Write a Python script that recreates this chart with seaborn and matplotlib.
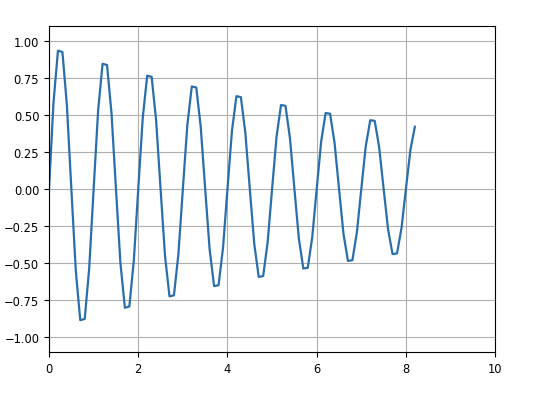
import matplotlib
matplotlib.use("Agg")
import matplotlib.pyplot as plt
import seaborn as sns
import pandas as pd

t = [0.0, 0.1, 0.2, 0.3, 0.4, 0.5, 0.6, 0.7, 0.8, 0.9,
     1.0, 1.1, 1.2, 1.3, 1.4, 1.5, 1.6, 1.7, 1.8, 1.9,
     2.0, 2.1, 2.2, 2.3, 2.4, 2.5, 2.6, 2.7, 2.8, 2.9,
     3.0, 3.1, 3.2, 3.3, 3.4, 3.5, 3.6, 3.7, 3.8, 3.9,
     4.0, 4.1, 4.2, 4.3, 4.4, 4.5, 4.6, 4.7, 4.8, 4.9,
     5.0, 5.1, 5.2, 5.3, 5.4, 5.5, 5.6, 5.7, 5.8, 5.9,
     6.0, 6.1, 6.2, 6.3, 6.4, 6.5, 6.6, 6.7, 6.8, 6.9,
     7.0, 7.1, 7.2, 7.3, 7.4, 7.5, 7.6, 7.7, 7.8, 7.9,
     8.0, 8.1, 8.2]

y = [0.0, 0.5819, 0.9323, 0.9230, 0.5647, 0.0, -0.5536, -0.8868, -0.8780, -0.5372,
     0.0, 0.5266, 0.8436, 0.8352, 0.5110, 0.0, -0.5009, -0.8024, -0.7944, -0.4861,
     0.0, 0.4765, 0.7633, 0.7557, 0.4624, 0.0, -0.4532, -0.7260, -0.7188, -0.4398,
     0.0, 0.4311, 0.6906, 0.6838, 0.4184, 0.0, -0.4101, -0.6569, -0.6504, -0.3980,
     0.0, 0.3901, 0.6249, 0.6187, 0.3786, 0.0, -0.3711, -0.5944, -0.5885, -0.3601,
     0.0, 0.3530, 0.5654, 0.5598, 0.3425, 0.0, -0.3358, -0.5379, -0.5325, -0.3258,
     0.0, 0.3194, 0.5116, 0.5065, 0.3099, 0.0, -0.3038, -0.4867, -0.4818, -0.2948,
     0.0, 0.2890, 0.4630, 0.4583, 0.2804, 0.0, -0.2749, -0.4404, -0.4360, -0.2668,
     0.0, 0.2615, 0.4189]

df = pd.DataFrame({"t": t, "y": y})

fig, ax = plt.subplots(figsize=(533 / 100, 406 / 100), dpi=100)
fig.subplots_adjust(left=0.092, right=0.929, top=0.934, bottom=0.131)

sns.lineplot(data=df, x="t", y="y", ax=ax, color="#2a6fab", linewidth=1.6)

ax.set_xlim(0, 10)
ax.set_ylim(-1.1, 1.1)
ax.set_xticks([0, 2, 4, 6, 8, 10])
ax.set_yticks([-1.0, -0.75, -0.5, -0.25, 0.0, 0.25, 0.5, 0.75, 1.0])
ax.set_yticklabels(["\u22121.00", "\u22120.75", "\u22120.50", "\u22120.25", "0.00",
                    "0.25", "0.50", "0.75", "1.00"])
ax.set_xlabel("")
ax.set_ylabel("")
ax.tick_params(labelsize=8.3)
ax.grid(True, color="#b0b0b0", linewidth=0.8)

fig.savefig("out.png", dpi=100)
